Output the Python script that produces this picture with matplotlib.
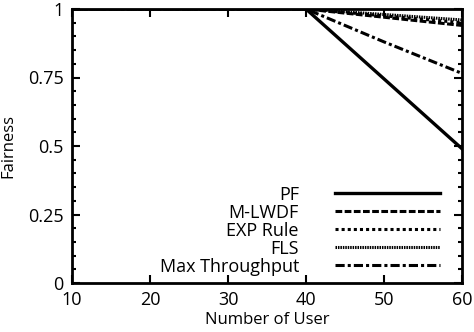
import numpy as np
import matplotlib.pyplot as plt
from matplotlib.ticker import MultipleLocator

plt.rcParams['font.family'] = ['Open Sans', 'DejaVu Sans']

users = [10, 20, 30, 40, 50, 60]
pf = [1.0, 1.0, 1.0, 1.0, 0.745, 0.49]
mlwdf = [1.0, 1.0, 1.0, 1.0, 0.97, 0.94]
exp_rule = [1.0, 1.0, 1.0, 1.0, 0.975, 0.95]
fls = [1.0, 1.0, 1.0, 1.0, 0.98, 0.96]
max_tp = [1.0, 1.0, 1.0, 1.0, 0.88, 0.765]

fig = plt.figure(figsize=(4.74, 3.32), dpi=100)
ax = fig.add_axes([72/474, 1 - 283/332, 390/474, 274/332])

ax.plot(users, pf, color='black', lw=2.4, label='PF')
ax.plot(users, mlwdf, color='black', lw=2.2, dashes=(2.2, 0.8), label='M-LWDF')
ax.plot(users, exp_rule, color='black', lw=2.2, dashes=(1.0, 1.0), label='EXP Rule')
ax.plot(users, fls, color='black', lw=2.2, dashes=(0.5, 0.3), label='FLS')
ax.plot(users, max_tp, color='black', lw=2.2, dashes=(3, 1, 1, 1), label='Max Throughput')

ax.set_xlim(10, 60)
ax.set_ylim(0, 1)
ax.set_xticks(users)
ax.set_yticks([0, 0.25, 0.5, 0.75, 1])
ax.set_yticklabels(['0', '0.25', '0.5', '0.75', '1'])
ax.yaxis.set_minor_locator(MultipleLocator(0.05))
ax.tick_params(which='both', direction='in', top=True, right=True, labelsize=13, width=1.5)
ax.tick_params(which='major', length=6, pad=6)
ax.tick_params(which='minor', length=3)
for s in ax.spines.values():
    s.set_linewidth(2)

ax.set_xlabel('Number of User', fontsize=12, labelpad=2)
ax.set_ylabel('Fairness', fontsize=12)
ax.yaxis.set_label_coords(-56/390, 0.5)

ax.legend(loc='lower right', bbox_to_anchor=(1 - 15/390, 0), frameon=False,
          markerfirst=False, fontsize=13, handlelength=5.8, labelspacing=0.0,
          borderaxespad=0.0, borderpad=0.4, handletextpad=2.0)

fig.savefig('out.png', dpi=100)
